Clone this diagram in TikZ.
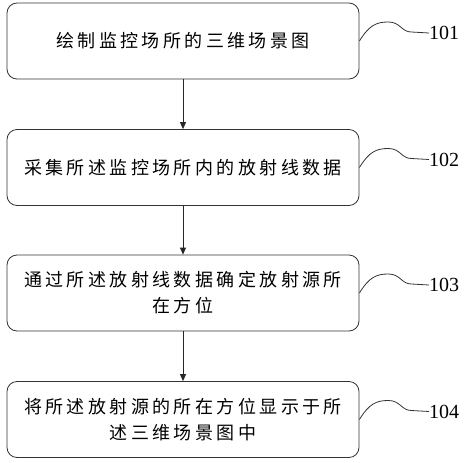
\documentclass[tikz,border=0pt]{standalone}
\usepackage{fontspec}
\setmainfont{Liberation Serif}
\newfontfamily\cjk[LetterSpace=19]{Noto Sans CJK SC}
\usetikzlibrary{arrows.meta}

\begin{document}
\begin{tikzpicture}[x=1pt, y=-1pt,
        stepbox/.style = {draw = black!80, line width = .8pt, rounded corners = 10pt,
            minimum width = 352pt, minimum height = 76pt, align = center,
            font = \cjk\fontsize{18}{26}\selectfont},
        steplabel/.style = {anchor = west, inner sep = 0pt, font = \fontsize{20}{22}\selectfont}]
    \useasboundingbox (0,0) rectangle (474,463);

    % The four steps:
    \node [stepbox] (b1) at (183,41)    {绘制监控场所的三维场景图};
    \node [stepbox] (b2) at (183,167.5) {采集所述监控场所内的放射线数据};
    \node [stepbox] (b3) at (183,293)   {通过所述放射线数据确定放射源所\\在方位};
    \node [stepbox] (b4) at (183,419.5) {将所述放射源的所在方位显示于所\\述三维场景图中};

    % The step numbers:
    \node [steplabel] (l1) at (429,33)  {101};
    \node [steplabel] (l2) at (429,159.5) {102};
    \node [steplabel] (l3) at (429,285) {103};
    \node [steplabel] (l4) at (429,411.5) {104};

    % Arrows between the steps:
    \foreach \a/\b in {1/2, 2/3, 3/4}
        \draw [-{Triangle[length=7pt, width=6pt]}, line width = .8pt, black!85] (b\a) -- (b\b);

    % Leaders to the step numbers:
    \foreach \n in {1, ..., 4}
        \draw [line width = .8pt, black!80] (b\n.east)
            .. controls +(10,-16) and +(-12,0) .. ++(29,-19)
            .. controls +(12,0) and +(-10,0) .. ++(23,10) -- (l\n.west);
\end{tikzpicture}
\end{document}
